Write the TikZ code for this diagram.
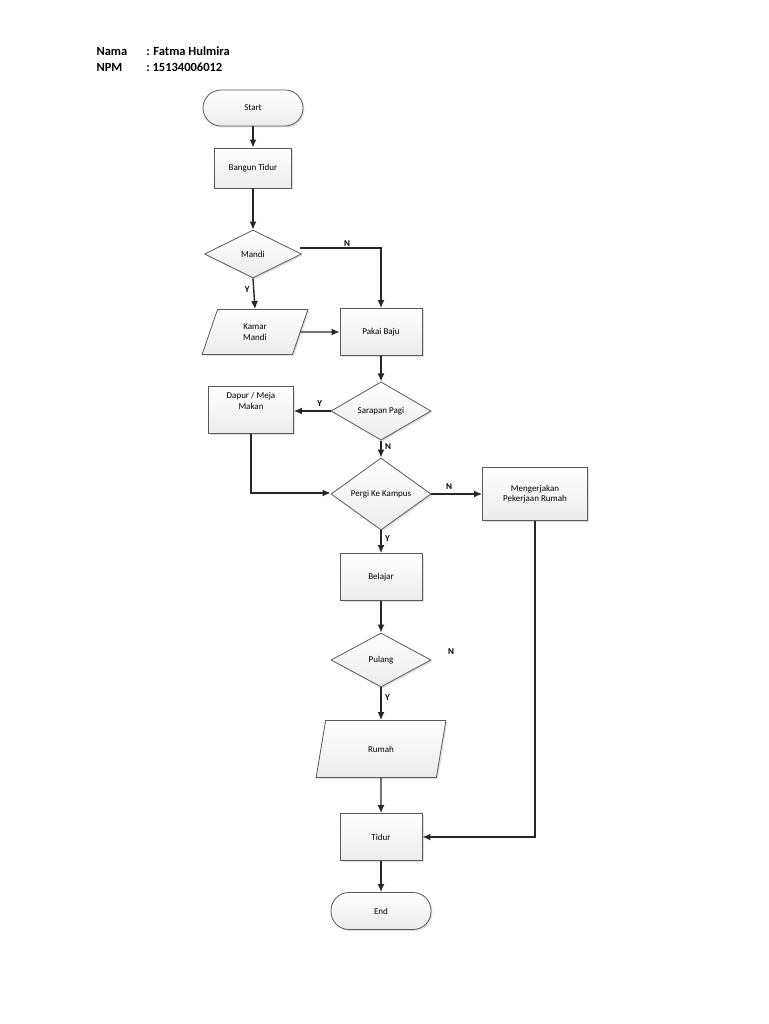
\documentclass[tikz,border=0pt]{standalone}
\usepackage{fontspec}
\setmainfont{Carlito}
\usetikzlibrary{shapes.geometric,arrows.meta,shadows}
\begin{document}
\begin{tikzpicture}[x=1pt,y=-1pt,
  base/.style={draw=gray!70!black,line width=0.8pt,top color=white,bottom color=gray!15,font=\fontsize{9}{10.5}\selectfont,align=center,inner sep=1pt,
    drop shadow={shadow xshift=1.5pt,shadow yshift=-1.5pt,opacity=0.25}},
  term/.style={base,rounded corners=18pt,minimum width=100pt,minimum height=36pt},
  proc/.style={base,minimum width=82pt,minimum height=47pt},
  dec/.style={base,diamond,minimum width=100pt,minimum height=54pt},
  io/.style={base,trapezium,trapezium left angle=74,trapezium right angle=106,trapezium stretches=true},
  arr/.style={-{Latex[length=8pt,width=7pt]},draw=gray!30!black,line width=1.4pt},
  lab/.style={font=\fontsize{9}{10}\selectfont\bfseries}]
\useasboundingbox (0,0) rectangle (768,1024);
\node[anchor=west,font=\fontsize{12.5}{14}\selectfont\bfseries] (h1) at (93,51) {Nama\hspace{19pt}: Fatma Hulmira};
\node[anchor=west,font=\fontsize{12.5}{14}\selectfont\bfseries] (h2) at (93,67) {NPM\hspace{24pt}: 15134006012};
\node[term] (start) at (253,108) {Start};
\node[proc,minimum width=77pt,minimum height=40pt] (bangun) at (253,168) {Bangun Tidur};
\node[dec,minimum width=97pt,minimum height=48pt] (mandi) at (253,254) {Mandi};
\node[io,minimum width=106pt,minimum height=45pt] (kamar) at (255,332) {Kamar\\Mandi};
\node[proc] (baju) at (381,332) {Pakai Baju};
\node[dec] (sarapan) at (381,411) {Sarapan Pagi};
\node[proc,minimum width=85pt] (dapur) at (251,410) {Dapur / Meja\\Makan\\[8pt]};
\node[dec,minimum height=55pt] (pergi) at (381,494) {Pergi Ke Kampus};
\node[proc,minimum width=105pt,minimum height=53pt] (kerja) at (535,494) {Mengerjakan\\Pekerjaan Rumah};
\node[proc] (belajar) at (381,577) {Belajar};
\node[dec] (pulang) at (381,660) {Pulang};
\node[io,minimum width=130pt,minimum height=57pt] (rumah) at (381,749) {Rumah};
\node[proc] (tidur) at (381,837) {Tidur};
\node[term,minimum height=37pt] (end) at (381,911) {End};
\coordinate (c1) at (381,248);
\coordinate (c2) at (251,493);
\coordinate (c3) at (535,837);
\draw[arr] (start) -- (bangun);
\draw[arr] (bangun) -- (mandi);
\draw[arr] (mandi.south) -- node[lab,left,pos=0.35]{Y} (kamar.north);
\draw[arr] (mandi.east |- c1) ++(-2,0) -- (c1) -- (baju.north);
\node[lab] (n1) at (347,244) {N};
\draw[arr] (kamar) -- (baju);
\draw[arr] (baju) -- (sarapan);
\draw[arr] (sarapan.west) -- node[lab,above,pos=0.3]{Y} (dapur.east |- sarapan.west);
\draw[arr] (sarapan) -- node[lab,right,pos=0.35]{N} (pergi);
\draw[arr] (dapur.south) -- (c2) -- (pergi.west |- c2);
\draw[arr] (pergi.east) -- node[lab,above,pos=0.35]{N} (kerja.west |- pergi.east);
\draw[arr] (pergi) -- node[lab,right,pos=0.35]{Y} (belajar);
\draw[arr] (belajar) -- (pulang);
\node[lab] (n2) at (451,652) {N};
\draw[arr] (pulang) -- node[lab,right,pos=0.3]{Y} (rumah);
\draw[arr] (rumah) -- (tidur);
\draw[arr] (kerja.south) -- (c3) -- (tidur.east);
\draw[arr] (tidur) -- (end);
\end{tikzpicture}
\end{document}
